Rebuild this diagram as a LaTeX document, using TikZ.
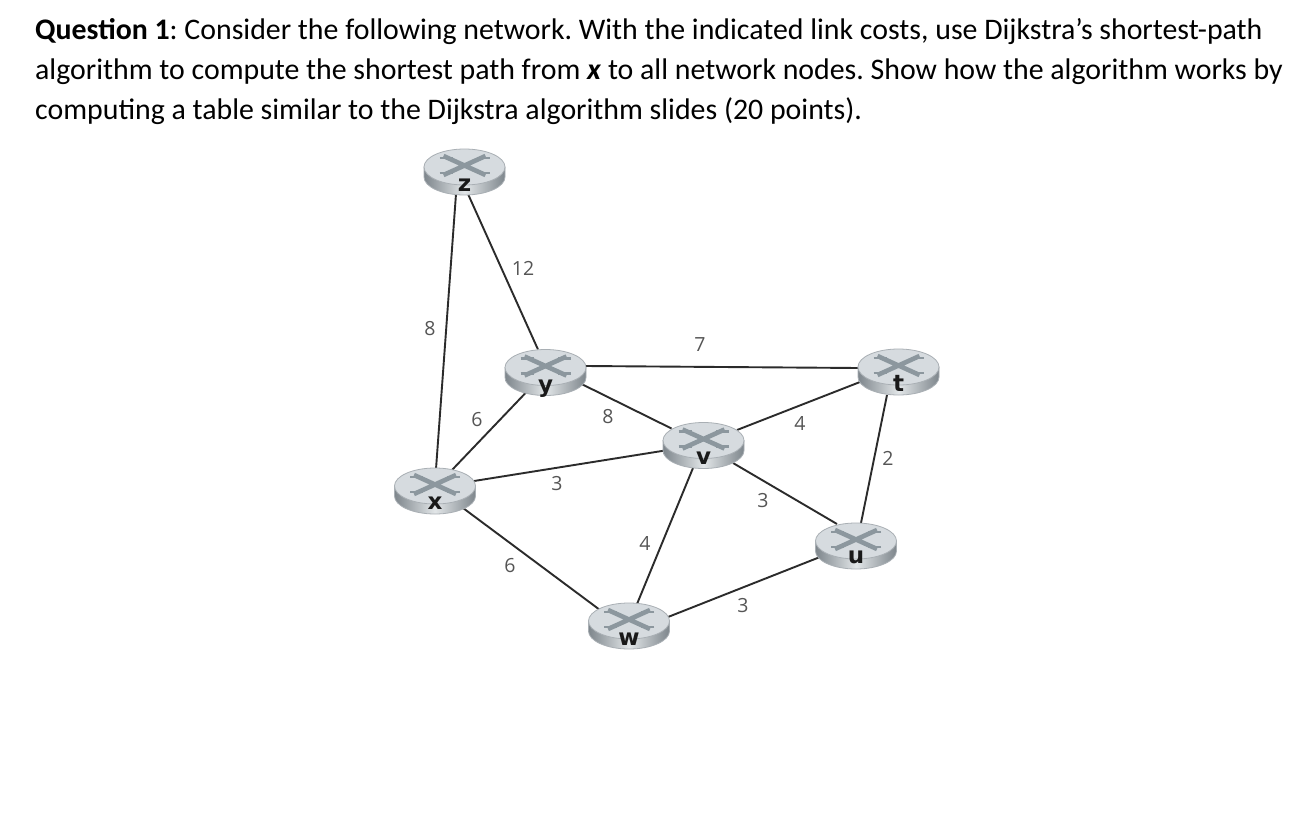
\documentclass[tikz,border=0pt]{standalone}
\usepackage{fontspec}
\setmainfont{Carlito}
\newfontfamily\costfont{Open Sans}
\newfontfamily\routerfont{DejaVu Sans}
\frenchspacing
\definecolor{topface}{HTML}{D6DBDF}
\definecolor{rim}{HTML}{A9AFB4}
\definecolor{sidedark}{HTML}{7E868C}
\definecolor{sidelight}{HTML}{E2E6E8}
\definecolor{cross}{HTML}{8C979E}
\definecolor{linkc}{HTML}{2B2B2B}
\definecolor{costc}{HTML}{555555}
\pgfdeclarelayer{paper}
\pgfdeclarelayer{links}
\pgfsetlayers{paper,links,main}
\tikzset{
  qline/.style={anchor=base west,inner sep=0pt,font=\fontsize{29.85}{32}\selectfont,text=black},
  link/.style={draw=linkc,line width=1.9pt},
  cost/.style={inner sep=0pt,text=costc,font=\costfont\fontsize{19.5}{22}\selectfont},
  routerbody/.style={shape=rectangle,minimum width=80pt,minimum height=46pt,inner sep=0pt},
  routername/.style={anchor=base,inner sep=0pt,text=black!90,font=\routerfont\bfseries\fontsize{23}{25}\selectfont},
}
\newcommand{\routerart}[5]{% name, cx, cy, label, baseline offset
  \begin{scope}[shift={(#2,#3)}]
    \path[left color=sidedark,right color=sidedark,middle color=sidelight,draw=rim,line width=.8pt]
      (-40.5,-5) -- (-40.5,5) arc[start angle=180,end angle=0,x radius=40.5,y radius=18] -- (40.5,-5) -- cycle;
    \path[fill=topface,draw=rim,line width=.8pt] (0,-5) ellipse[x radius=40.5,y radius=18];
    \path[draw=cross,line width=4.6pt] (-21,-16) -- (21,3) (21,-16) -- (-21,3);
    \path[draw=cross,line width=2.6pt] (-25,-14) -- (-12,-14) (25,-14) -- (12,-14) (-25,1) -- (-12,1) (25,1) -- (12,1);
  \end{scope}
  \node[routerbody] (#1) at (#2,#3) {};
  \node[routername] (#1label) at (#2,#3+#5) {#4};
}
\begin{document}
\begin{tikzpicture}[x=1pt,y=-1pt]
\begin{pgfonlayer}{paper}
\fill[white] (0,0) rectangle (1309,814);
\end{pgfonlayer}
\useasboundingbox (0,0) rectangle (1309,814);
\node[qline] (q1) at (35,39) {\textbf{Question 1}: Consider the following network. With the indicated link costs, use Dijkstra’s shortest-path};
\node[qline] (q2) at (35,79) {algorithm to compute the shortest path from \textbf{\textit{x}} to all network nodes. Show how the algorithm works by};
\node[qline] (q3) at (35,119) {computing a table similar to the Dijkstra algorithm slides (20 points).};
\routerart{z}{464.5}{172}{z}{19}
\routerart{y}{545.5}{372.5}{y}{19.5}
\routerart{x}{435}{491}{x}{18}
\routerart{w}{629}{626}{w}{19}
\routerart{u}{856}{546}{u}{17}
\routerart{v}{703.5}{445.5}{v}{19}
\routerart{t}{898.5}{372}{t}{19}
\begin{pgfonlayer}{links}
\draw[link] ([shift={(-8.5,22)}]z.center) -- ([shift={(1,-22)}]x.center);
\draw[link] ([shift={(3.5,22)}]z.center) -- ([shift={(-7.5,-23)}]y.center);
\draw[link] ([shift={(40,-6.5)}]y.center) -- ([shift={(-40,-4)}]t.center);
\draw[link] ([shift={(36,11.5)}]y.center) -- ([shift={(-32,-17)}]v.center);
\draw[link] ([shift={(-20,20.5)}]y.center) -- ([shift={(17,-21)}]x.center);
\draw[link] ([shift={(39,-10)}]x.center) -- ([shift={(-38.5,5)}]v.center);
\draw[link] ([shift={(28,17)}]x.center) -- ([shift={(-29,-16)}]w.center);
\draw[link] ([shift={(-10.5,22.5)}]v.center) -- ([shift={(8,-22)}]w.center);
\draw[link] ([shift={(33.5,-15.5)}]v.center) -- ([shift={(-38.5,10)}]t.center);
\draw[link] ([shift={(29.5,17.5)}]v.center) -- ([shift={(-19,-22)}]u.center);
\draw[link] ([shift={(-11.5,23)}]t.center) -- ([shift={(5,-23)}]u.center);
\draw[link] ([shift={(39,-9)}]w.center) -- ([shift={(-36,11)}]u.center);
\end{pgfonlayer}
\node[cost] (c1) at (523,268) {12};
\node[cost] (c2) at (430,329) {8};
\node[cost] (c3) at (700,345) {7};
\node[cost] (c4) at (477,420) {6};
\node[cost] (c5) at (608,417) {8};
\node[cost] (c6) at (800,423) {4};
\node[cost] (c7) at (888,458) {2};
\node[cost] (c8) at (557,484) {3};
\node[cost] (c9) at (763,501) {3};
\node[cost] (c10) at (645,543) {4};
\node[cost] (c11) at (510,566) {6};
\node[cost] (c12) at (743,606) {3};
\end{tikzpicture}
\end{document}
